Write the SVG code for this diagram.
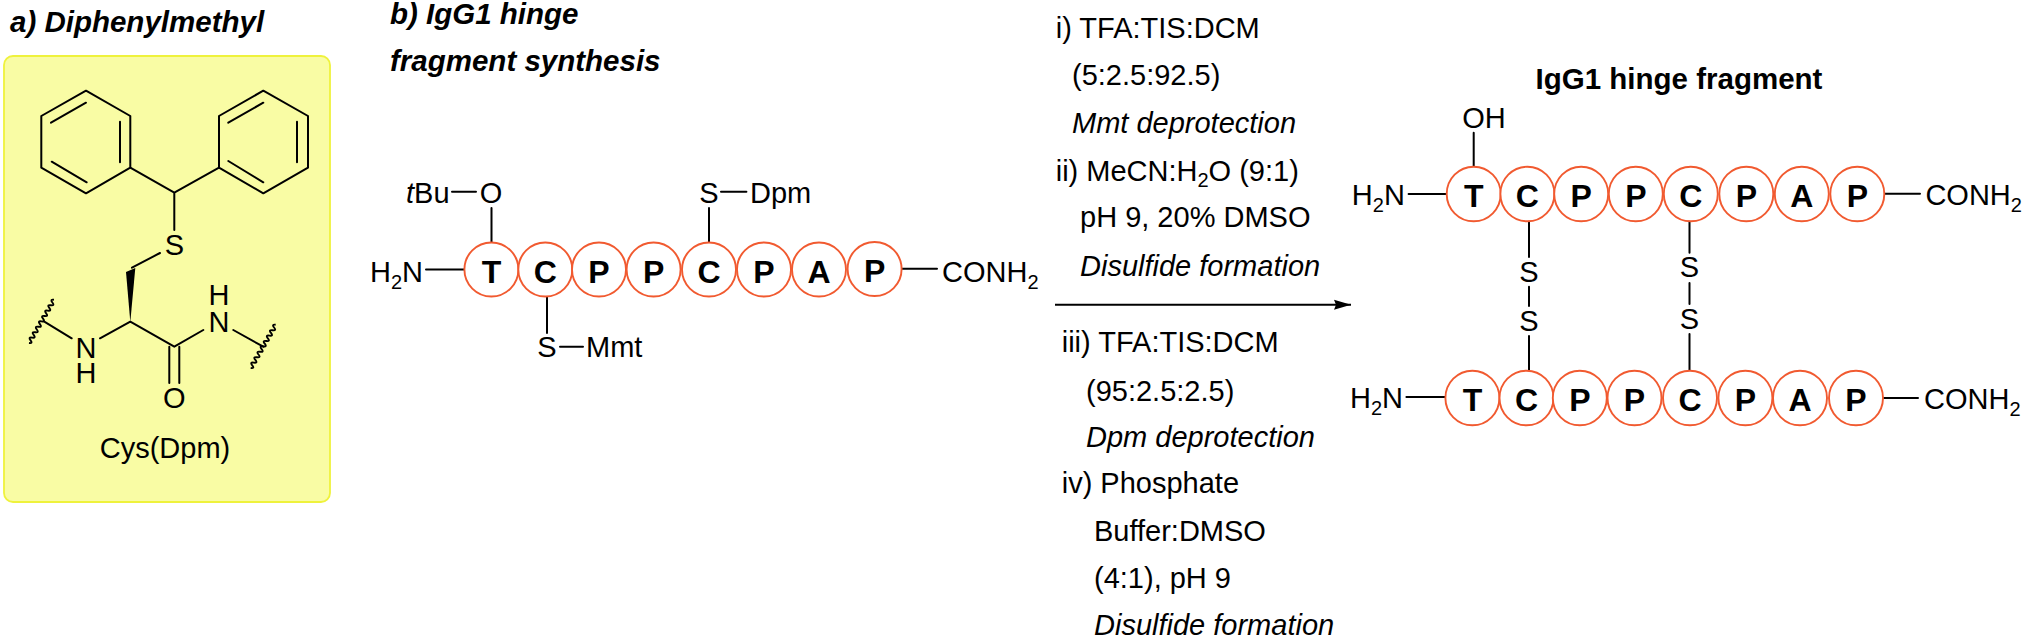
<svg xmlns="http://www.w3.org/2000/svg" width="2025" height="640" viewBox="0 0 2025 640">
<style>
text{font-family:"Liberation Sans",Arial,sans-serif;fill:#000;font-size:29px}
.t{font-weight:bold;font-style:italic;font-size:29.5px}
.h{font-weight:bold;font-size:29.5px}
.i{font-style:italic}
.m{text-anchor:middle}
.a{font-weight:bold;font-size:32px;text-anchor:middle}
.r{fill:#fff;stroke:#f15a30;stroke-width:1.9}
.b{stroke:#000;stroke-width:2;fill:none;stroke-linecap:round;stroke-linejoin:round}
.w{stroke:#000;stroke-width:1.9;fill:none}
.s{font-size:20px}
</style>
<defs>
<marker id="ah" markerUnits="userSpaceOnUse" markerWidth="18" markerHeight="12" refX="17" refY="6" orient="auto"><path d="M0 1 L17 6 L0 11 L2 6 Z" fill="#000"/></marker>
<path id="wave" d="M0 0q4.26 .63 1.56 -2.7t1.56 -2.7t1.56 -2.7t1.56 -2.7t1.56 -2.7t1.56 -2.7t1.56 -2.7t1.56 -2.7t1.56 -2.7t1.56 -2.7t1.56 -2.7t1.56 -2.7t1.56 -2.7t1.56 -2.7t1.56 -2.7t1.56 -2.7" class="w"/>
</defs>

<g id="panel-a">
<text x="10" y="32" class="t">a) Diphenylmethyl</text>
<rect x="4" y="56" width="326" height="446" rx="9" fill="#f9fca4" stroke="#eff23c" stroke-width="1.8"/>
<g class="b">
<path d="M86 90.7L130.3 116V167.7L86 193.3L41.3 167.7V116Z"/>
<path d="M51 122.7L86 102.7M120 121.7V162.3M51.7 161.7L86.7 182.3"/>
<path d="M263.3 90.7L308 116V167.7L263.3 193.3L219 167.7V116Z"/>
<path d="M228.3 122.7L263.3 102.7M297 121.7V162.3M228.3 161L263.3 182.3"/>
<path d="M130.3 167.7L174.3 192.7L219 167.7M174.3 192.7V230"/>
<path d="M160 253L132 267.7"/>
<path d="M130.3 321.7L174.3 346.7L203.3 330M100 338.3L130.3 321.7M71.7 338.3L44.3 321.7M233.3 330L263.3 346.7"/>
<path d="M169.3 346.7V383M179.3 346.7V383"/>
</g>
<path d="M130.3 322L126 272L135.3 268Z" fill="#000"/>
<use href="#wave" x="29" y="343"/>
<use href="#wave" x="250.7" y="368"/>
<text x="174.3" y="255" class="m">S</text>
<text x="219" y="305" class="m">H</text>
<text x="219" y="331.7" class="m">N</text>
<text x="86" y="358" class="m">N</text>
<text x="86" y="383" class="m">H</text>
<text x="174.3" y="408" class="m">O</text>
<text x="165" y="458" class="m">Cys(Dpm)</text>
</g>

<g id="panel-b-title">
<text x="390" y="24" class="t">b) IgG1 hinge</text>
<text x="390" y="71" class="t">fragment synthesis</text>
</g>

<g id="connectors">
<path class="b" d="M426 269.5H464M900 268.7H937M491.5 208V243M709 208V243M547 296V333M452 191.7H476M721 191.7H746.4M560 346.7H583"/>
<path class="b" d="M1408.6 194H1447M1884 193.7H1920M1473.7 132.7V166.7M1529 219V257M1529 286.7V306M1529 336V371.7M1689.5 221V252.7M1689.5 283V304M1689.5 334V370.7M1406.4 397H1445M1881.7 398H1918"/>
<path d="M1055 304.7H1351" stroke="#000" stroke-width="2" marker-end="url(#ah)"/>
</g>

<g id="peptide-protected">
<g id="p1-T"><ellipse class="r" cx="491.4" cy="269.5" rx="27" ry="27"/><text class="a" x="491.4" y="282.5">T</text></g>
<g id="p1-C1"><ellipse class="r" cx="545.3" cy="269.5" rx="27" ry="27"/><text class="a" x="545.3" y="282.5">C</text></g>
<g id="p1-P1"><ellipse class="r" cx="599" cy="269.5" rx="27" ry="27"/><text class="a" x="599" y="282.5">P</text></g>
<g id="p1-P2"><ellipse class="r" cx="653.6" cy="269.5" rx="27" ry="27"/><text class="a" x="653.6" y="282.5">P</text></g>
<g id="p1-C2"><ellipse class="r" cx="709" cy="269.5" rx="27" ry="27"/><text class="a" x="709" y="282.5">C</text></g>
<g id="p1-P3"><ellipse class="r" cx="764" cy="269.5" rx="27" ry="27"/><text class="a" x="764" y="282.5">P</text></g>
<g id="p1-A"><ellipse class="r" cx="819" cy="269.5" rx="27" ry="27"/><text class="a" x="819" y="282.5">A</text></g>
<g id="p1-Pe"><ellipse class="r" cx="874.6" cy="269" rx="27" ry="27"/><text class="a" x="874.6" y="282">P</text></g>
<text x="370" y="281.5">H<tspan class="s" dy="7">2</tspan><tspan dy="-7">N</tspan></text>
<text x="942" y="281.5">CONH<tspan class="s" dy="7">2</tspan></text>
<text x="406" y="203"><tspan class="i">t</tspan>Bu</text>
<text x="491" y="203" class="m">O</text>
<text x="709" y="203" class="m">S</text>
<text x="750" y="203">Dpm</text>
<text x="547" y="357" class="m">S</text>
<text x="586" y="357">Mmt</text>
</g>

<g id="conditions">
<text x="1055.7" y="37.6">i) TFA:TIS:DCM</text>
<text x="1072" y="84.5">(5:2.5:92.5)</text>
<text x="1072" y="132.6" class="i">Mmt deprotection</text>
<text x="1055.7" y="181">ii) MeCN:H<tspan class="s" dy="6">2</tspan><tspan dy="-6">O (9:1)</tspan></text>
<text x="1080" y="227">pH 9, 20% DMSO</text>
<text x="1080" y="275.5" class="i">Disulfide formation</text>
<text x="1061.7" y="352">iii) TFA:TIS:DCM</text>
<text x="1086" y="401">(95:2.5:2.5)</text>
<text x="1086" y="447" class="i">Dpm deprotection</text>
<text x="1061.7" y="493">iv) Phosphate</text>
<text x="1094" y="541">Buffer:DMSO</text>
<text x="1094" y="588">(4:1), pH 9</text>
<text x="1094" y="634.7" class="i">Disulfide formation</text>
</g>

<g id="product">
<text x="1679" y="89" class="h m">IgG1 hinge fragment</text>
<g id="p2-T"><ellipse class="r" cx="1473.7" cy="194" rx="27" ry="27.3"/><text class="a" x="1473.7" y="206.7">T</text></g>
<g id="p2-C1"><ellipse class="r" cx="1527.4" cy="194" rx="27" ry="27.3"/><text class="a" x="1527.4" y="206.7">C</text></g>
<g id="p2-P1"><ellipse class="r" cx="1581.2" cy="194" rx="27" ry="27.3"/><text class="a" x="1581.2" y="206.7">P</text></g>
<g id="p2-P2"><ellipse class="r" cx="1635.8" cy="194" rx="27" ry="27.3"/><text class="a" x="1635.8" y="206.7">P</text></g>
<g id="p2-C2"><ellipse class="r" cx="1690.8" cy="194" rx="27" ry="27.3"/><text class="a" x="1690.8" y="206.7">C</text></g>
<g id="p2-P3"><ellipse class="r" cx="1746.3" cy="194" rx="27" ry="27.3"/><text class="a" x="1746.3" y="206.7">P</text></g>
<g id="p2-A"><ellipse class="r" cx="1801.8" cy="194" rx="27" ry="27.3"/><text class="a" x="1801.8" y="206.7">A</text></g>
<g id="p2-Pe"><ellipse class="r" cx="1857.3" cy="194" rx="27" ry="27.3"/><text class="a" x="1857.3" y="206.7">P</text></g>
<g id="p3-T"><ellipse class="r" cx="1472.4" cy="398" rx="27" ry="27.3"/><text class="a" x="1472.4" y="410.7">T</text></g>
<g id="p3-C1"><ellipse class="r" cx="1526.5" cy="398" rx="27" ry="27.3"/><text class="a" x="1526.5" y="410.7">C</text></g>
<g id="p3-P1"><ellipse class="r" cx="1579.8" cy="398" rx="27" ry="27.3"/><text class="a" x="1579.8" y="410.7">P</text></g>
<g id="p3-P2"><ellipse class="r" cx="1634.5" cy="398" rx="27" ry="27.3"/><text class="a" x="1634.5" y="410.7">P</text></g>
<g id="p3-C2"><ellipse class="r" cx="1690" cy="398" rx="27" ry="27.3"/><text class="a" x="1690" y="410.7">C</text></g>
<g id="p3-P3"><ellipse class="r" cx="1745.4" cy="398" rx="27" ry="27.3"/><text class="a" x="1745.4" y="410.7">P</text></g>
<g id="p3-A"><ellipse class="r" cx="1800" cy="398" rx="27" ry="27.3"/><text class="a" x="1800" y="410.7">A</text></g>
<g id="p3-Pe"><ellipse class="r" cx="1856" cy="398" rx="27" ry="27.3"/><text class="a" x="1856" y="410.7">P</text></g>
<text x="1351.8" y="205">H<tspan class="s" dy="7">2</tspan><tspan dy="-7">N</tspan></text>
<text x="1925.4" y="205">CONH<tspan class="s" dy="7">2</tspan></text>
<text x="1350" y="408.3">H<tspan class="s" dy="7">2</tspan><tspan dy="-7">N</tspan></text>
<text x="1924" y="409">CONH<tspan class="s" dy="7">2</tspan></text>
<text x="1484" y="127.7" class="m">OH</text>
<text x="1529" y="281.7" class="m">S</text>
<text x="1529" y="330.7" class="m">S</text>
<text x="1689.5" y="277" class="m">S</text>
<text x="1689.5" y="329" class="m">S</text>
</g>
</svg>
